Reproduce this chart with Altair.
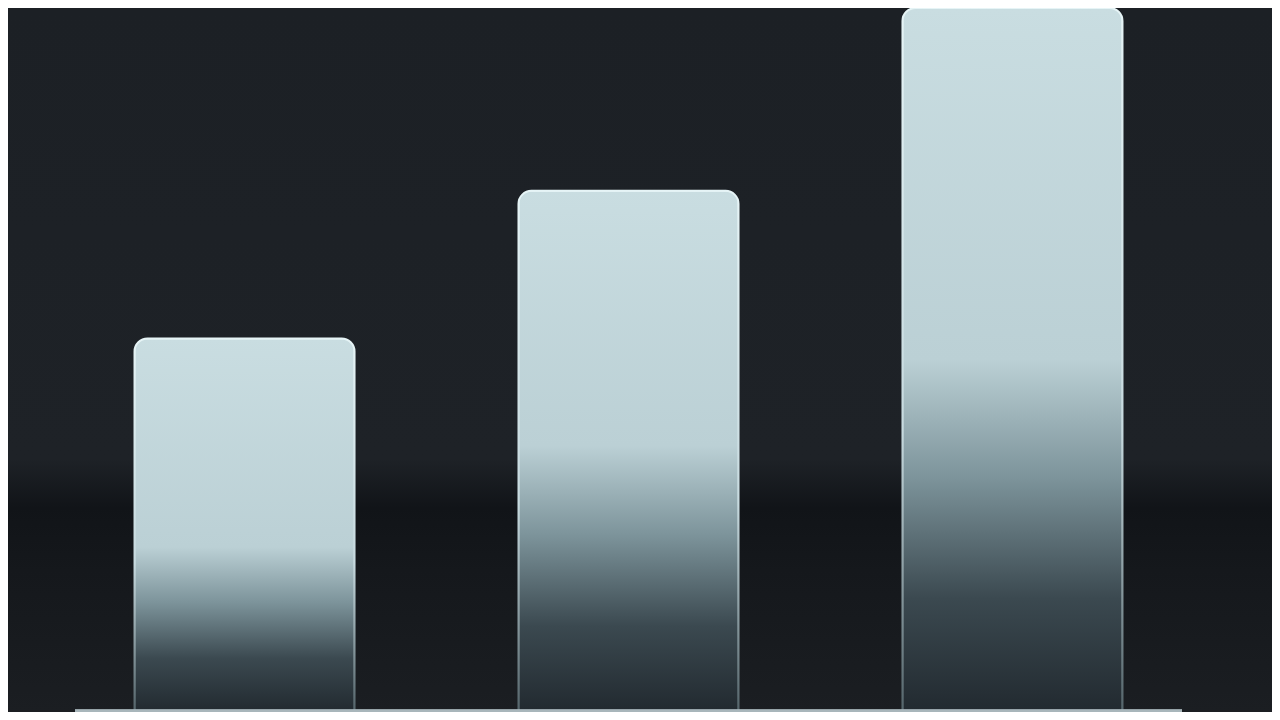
import altair as alt
import pandas as pd

categories = ["A", "B", "C"]
values = [53, 74, 100]
fade_start = [0.56, 0.49, 0.50]

df = pd.DataFrame({"category": categories, "value": values})


def bar_fill(s):
    span = 1.0 - s
    return {
        "gradient": "linear", "x1": 0, "y1": 0, "x2": 0, "y2": 1,
        "stops": [
            {"offset": 0.0, "color": "#c9dde1"},
            {"offset": s, "color": "#bbd0d5"},
            {"offset": s + span * 0.34, "color": "#7c939a"},
            {"offset": s + span * 0.68, "color": "#3b4950"},
            {"offset": 1.0, "color": "#222a30"},
        ],
    }


bar_stroke = {
    "gradient": "linear", "x1": 0, "y1": 0, "x2": 0, "y2": 1,
    "stops": [
        {"offset": 0.0, "color": "#e6f4f6"},
        {"offset": 0.6, "color": "#c7dadf"},
        {"offset": 1.0, "color": "#55656b"},
    ],
}
bg_fill = {
    "gradient": "linear", "x1": 0, "y1": 0, "x2": 0, "y2": 1,
    "stops": [
        {"offset": 0.0, "color": "#1c2025"},
        {"offset": 0.64, "color": "#1e2227"},
        {"offset": 0.71, "color": "#111418"},
        {"offset": 0.80, "color": "#15181c"},
        {"offset": 1.0, "color": "#1b1e22"},
    ],
}

bg = alt.Chart(df).mark_rect(fill=bg_fill).encode(
    x=alt.value(-67), x2=alt.value(1200), y=alt.value(0), y2=alt.value(704)
).transform_filter(alt.datum.category == "A")

xenc = alt.X("category:N", axis=None, sort=categories,
             scale=alt.Scale(paddingInner=0.427, paddingOuter=0.155))
yenc = alt.Y("value:Q", axis=None, scale=alt.Scale(domain=[0, 100], nice=False))

bar_layers = []
for cat, s in zip(categories, fade_start):
    bar_layers.append(
        alt.Chart(df).transform_filter(alt.datum.category == cat).mark_bar(
            fill=bar_fill(s), stroke=bar_stroke, strokeWidth=2,
            cornerRadiusTopLeft=13, cornerRadiusTopRight=13,
        ).encode(x=xenc, y=yenc)
    )

base = alt.Chart(df).mark_rule(color="#a8b6bb", strokeWidth=3).encode(
    y=alt.datum(0)
)

chart = alt.layer(bg, *bar_layers, base).properties(
    width=1107, height=703,
    padding={"left": 67, "top": 0, "right": 90, "bottom": 1},
    autosize=alt.AutoSizeParams(type="none"),
    background="#1c2025",
).configure_view(stroke=None)

chart.save("out.html", embed_options={"renderer": "svg", "actions": False})
